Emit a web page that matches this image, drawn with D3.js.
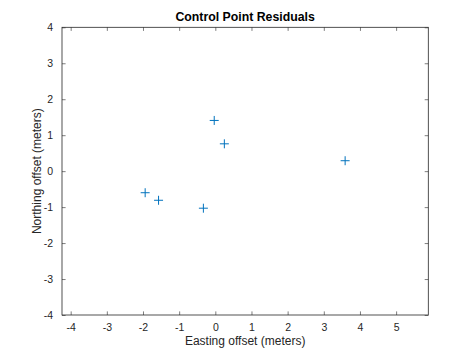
<!DOCTYPE html>
<html>
<head>
<meta charset="utf-8">
<script src="https://cdn.jsdelivr.net/npm/d3@7"></script>
<style>
  html, body { margin: 0; padding: 0; background: #fff; }
  svg { display: block; font-family: "Liberation Sans", Arial, Helvetica, sans-serif; }
</style>
</head>
<body>
<svg id="chart" width="474" height="355"></svg>
<script>
// Data
const eastingOffsets  = [-0.03, 0.25, -1.94, -1.57, -0.33, 3.59];
const northingOffsets = [1.41, 0.76, -0.60, -0.81, -1.03, 0.29];
const xTicks = [-4, -3, -2, -1, 0, 1, 2, 3, 4, 5];
const yTicks = [-4, -3, -2, -1, 0, 1, 2, 3, 4];
const xLimits = [-4.24, 5.89];
const yLimits = [-4, 4];
const titleText = "Control Point Residuals";
const xLabelText = "Easting offset (meters)";
const yLabelText = "Northing offset (meters)";

const points = eastingOffsets.map((e, i) => ({ x: e, y: northingOffsets[i] }));

const svg = d3.select("#chart");
const pLeft = 62, pRight = 428.3, pTop = 27.3, pBottom = 315;
const axisColor = "#262626";

const x = d3.scaleLinear().domain(xLimits).range([pLeft, pRight]);
const y = d3.scaleLinear().domain(yLimits).range([pBottom, pTop]);

const tickLen = 3.6;
const fmt = v => String(v);

// Bottom axis (ticks inside)
const gx = svg.append("g").attr("transform", `translate(0,${pBottom})`)
  .call(d3.axisBottom(x).tickValues(xTicks).tickFormat(fmt).tickSize(-tickLen).tickPadding(9).tickSizeOuter(0));
// Top axis (mirrored ticks, no labels)
const gxt = svg.append("g").attr("transform", `translate(0,${pTop})`)
  .call(d3.axisTop(x).tickValues(xTicks).tickSize(-tickLen).tickFormat("").tickSizeOuter(0));
// Left axis
const gy = svg.append("g").attr("transform", `translate(${pLeft},0)`)
  .call(d3.axisLeft(y).tickValues(yTicks).tickFormat(fmt).tickSize(-tickLen).tickPadding(9).tickSizeOuter(0));
// Right axis
const gyr = svg.append("g").attr("transform", `translate(${pRight},0)`)
  .call(d3.axisRight(y).tickValues(yTicks).tickSize(-tickLen).tickFormat("").tickSizeOuter(0));

[gx, gxt, gy, gyr].forEach(g => {
  g.select(".domain").remove();
  g.selectAll(".tick line").attr("stroke", axisColor).attr("stroke-width", 0.6);
  g.selectAll(".tick text").attr("fill", axisColor).attr("font-size", 10.5)
    .attr("font-family", "'Liberation Sans', Arial, sans-serif");
});

// Box
svg.append("rect")
  .attr("x", pLeft).attr("y", pTop)
  .attr("width", pRight - pLeft).attr("height", pBottom - pTop)
  .attr("fill", "none").attr("stroke", axisColor).attr("stroke-width", 0.8);

// Markers (+)
const s = 4.5;
const mk = svg.append("g").attr("stroke", "#0072BD").attr("stroke-width", 1).attr("fill", "none");
mk.selectAll("path").data(points).join("path")
  .attr("d", d => {
    const cx = x(d.x), cy = y(d.y);
    return `M${cx - s},${cy}H${cx + s}M${cx},${cy - s}V${cy + s}`;
  });

// Title
svg.append("text")
  .attr("x", (pLeft + pRight) / 2).attr("y", 21)
  .attr("text-anchor", "middle").attr("font-size", 12.3).attr("font-weight", "bold")
  .attr("fill", "#000").text(titleText);

// X label
svg.append("text")
  .attr("x", (pLeft + pRight) / 2).attr("y", 345)
  .attr("text-anchor", "middle").attr("font-size", 12)
  .attr("fill", axisColor).text(xLabelText);

// Y label
svg.append("text")
  .attr("transform", `translate(41,${(pTop + pBottom) / 2}) rotate(-90)`)
  .attr("text-anchor", "middle").attr("font-size", 12)
  .attr("fill", axisColor).text(yLabelText);
</script>
</body>
</html>
